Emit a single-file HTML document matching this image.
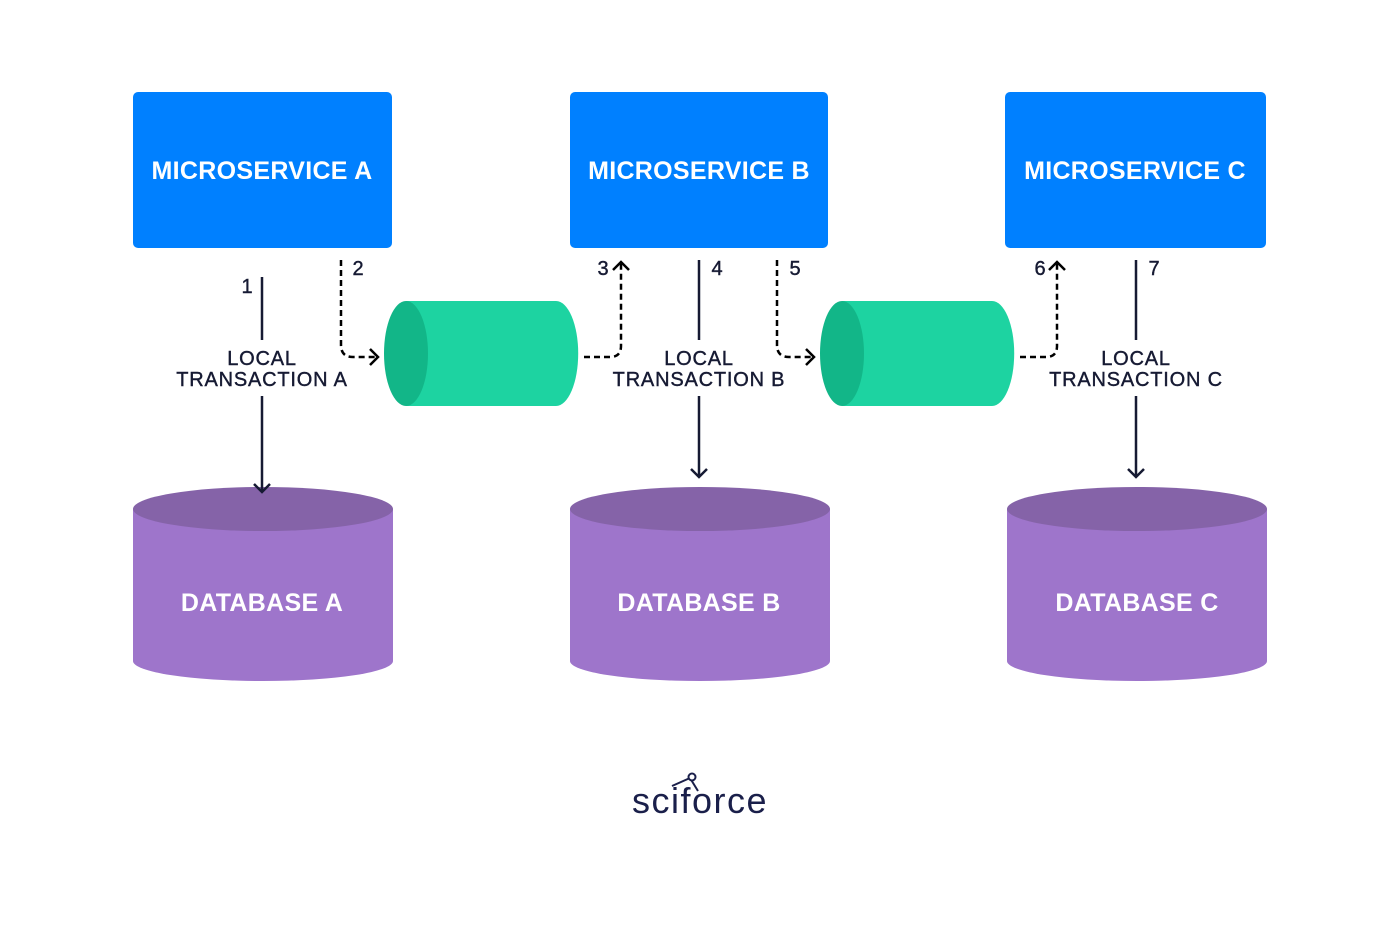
<!DOCTYPE html>
<html><head><meta charset="utf-8"><style>
html,body{margin:0;padding:0;background:#fff;}
svg{display:block;}
text{font-family:"Liberation Sans",sans-serif;}
</style></head><body>
<svg width="1400" height="938" viewBox="0 0 1400 938" xmlns="http://www.w3.org/2000/svg">
<defs>
<g id="db">
<path d="M0,20 L0,172 A130,20 0 0 0 260,172 L260,20 Z" fill="#9e75cb"/>
<ellipse cx="130" cy="20" rx="130" ry="22" fill="#8563a8"/>
</g>
<g id="cyl">
<path d="M22,0 L172,0 A22,52 0 0 1 172,105 L22,105 Z" fill="#1dd3a1"/>
<ellipse cx="22" cy="52.5" rx="22" ry="52.5" fill="#12b688"/>
</g>
</defs>
<g fill="#0080ff">
<rect x="133" y="92" width="259" height="156" rx="5"/>
<rect x="570" y="92" width="258" height="156" rx="5"/>
<rect x="1005" y="92" width="261" height="156" rx="5"/>
</g>
<g fill="#fff" font-weight="bold" font-size="25" text-anchor="middle" letter-spacing="0.3">
<text x="262" y="179">MICROSERVICE A</text>
<text x="699" y="179">MICROSERVICE B</text>
<text x="1135" y="179">MICROSERVICE C</text>
</g>
<use href="#cyl" x="384" y="301"/>
<use href="#cyl" x="820" y="301"/>
<use href="#db" x="133" y="489"/>
<use href="#db" x="570" y="489"/>
<use href="#db" x="1007" y="489"/>
<g fill="#fff" font-weight="bold" font-size="25" text-anchor="middle" letter-spacing="0.3">
<text x="262" y="611">DATABASE A</text>
<text x="699" y="611">DATABASE B</text>
<text x="1137" y="611">DATABASE C</text>
</g>
<g stroke="#161a33" stroke-width="2.5" fill="none">
<path d="M262,277 V340 M262,396 V492 M254,484 L262,492 L270,484"/>
<path d="M699,260 V340 M699,396 V477 M691,469 L699,477 L707,469"/>
<path d="M1136,260 V340 M1136,396 V477 M1128,469 L1136,477 L1144,469"/>
</g>
<g stroke="#000" stroke-width="2.5" fill="none" stroke-dasharray="6,4">
<path d="M341,260 V345 Q341,357 353,357 H375"/>
<path d="M584,357 H610 Q621,357 621,346 V264"/>
<path d="M777,260 V345 Q777,357 789,357 H811"/>
<path d="M1020,357 H1046 Q1057,357 1057,346 V264"/>
</g>
<g stroke="#000" stroke-width="2.5" fill="none">
<path d="M370,349 L378,357 L370,365"/>
<path d="M613,270 L621,262 L629,270"/>
<path d="M806,349 L814,357 L806,365"/>
<path d="M1049,270 L1057,262 L1065,270"/>
</g>
<g fill="#161a33" font-size="20" text-anchor="middle" stroke="#161a33" stroke-width="0.4">
<text x="247" y="293">1</text>
<text x="358" y="275">2</text>
<text x="603" y="275">3</text>
<text x="717" y="275">4</text>
<text x="795" y="275">5</text>
<text x="1040" y="275">6</text>
<text x="1154" y="275">7</text>
<g letter-spacing="0.8">
<text x="262" y="365">LOCAL</text>
<text x="262" y="386">TRANSACTION A</text>
<text x="699" y="365">LOCAL</text>
<text x="699" y="386">TRANSACTION B</text>
<text x="1136" y="365">LOCAL</text>
<text x="1136" y="386">TRANSACTION C</text>
</g>
</g>
<text x="700" y="813" text-anchor="middle" font-size="36" letter-spacing="1.5" fill="#1a1f4a">sciforce</text>
<g stroke="#1a1f4a" stroke-width="2" fill="none">
<path d="M672,786 L690,778 L698,791"/>
<circle cx="692" cy="777" r="3.5" fill="#fff"/>
</g>
</svg>
</body></html>
